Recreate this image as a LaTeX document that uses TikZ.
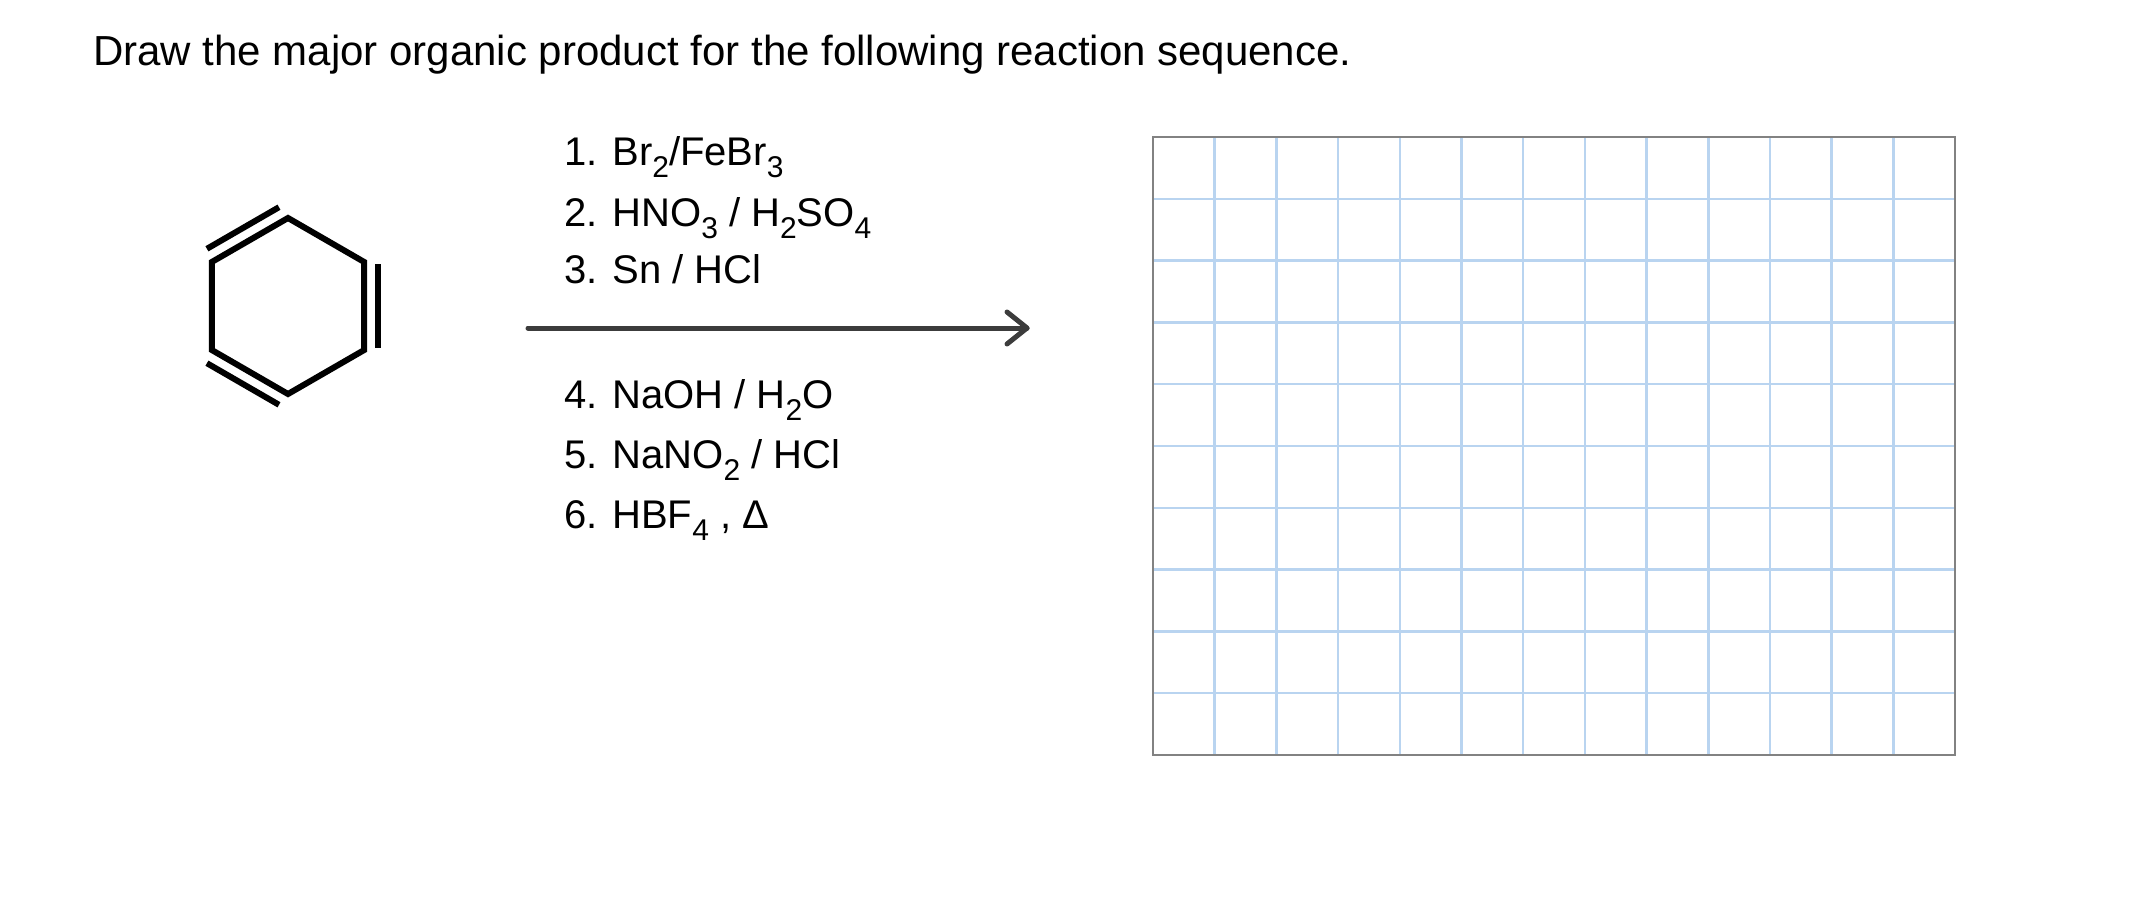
\documentclass[tikz,border=0pt]{standalone}
\usepackage{fontspec}
\setmainfont{Liberation Sans}
\usetikzlibrary{calc}
\newcommand\sbs[1]{\raisebox{-0.3em}{\fontsize{30}{30}\selectfont #1}}
\definecolor{gridblue}{RGB}{185,212,240}
\definecolor{framegray}{RGB}{130,130,130}
\definecolor{arrowgray}{RGB}{60,60,60}
\tikzset{
  bond/.style={line width=6pt,line cap=butt},
  reag/.style={anchor=west,inner sep=0pt,font=\fontsize{40}{40}\selectfont},
}
\begin{document}
\begin{tikzpicture}[x=1pt,y=-1pt]
\useasboundingbox (0,0) rectangle (2140,912);
\node[anchor=west,inner sep=0pt,font=\fontsize{42}{42}\selectfont] (title) at (93,55) {Draw the major organic product for the following reaction sequence.};
% benzene
\coordinate (c) at (288,306);
\foreach \i/\a in {1/90,2/150,3/210,4/270,5/330,6/30}{
  \coordinate (v\i) at ($(c)+(\a:88)$);
  \coordinate (o\i) at ($(c)+(\a:104)$);
}
\draw[bond,line join=miter] (v1)--(v2)--(v3)--(v4)--(v5)--(v6)--cycle;
% outer double bonds
\draw[bond] ($(o1)!0.1!(o2)$) -- ($(o2)!0.1!(o1)$);
\draw[bond] ($(o3)!0.1!(o4)$) -- ($(o4)!0.1!(o3)$);
\draw[bond] ($(o5)!0.1!(o6)$) -- ($(o6)!0.1!(o5)$);
% arrow
\coordinate (as) at (528,328);
\coordinate (ae) at (1027,328);
\draw[arrowgray,line width=5pt,line cap=round] (as) -- (ae);
\draw[arrowgray,line width=5pt,line cap=round,line join=round] ($(ae)+(-20,-16)$) -- (ae) -- ($(ae)+(-20,16)$);
% reagents
\node[reag] (r1) at (564,157) {1. Br\sbs{2}/FeBr\sbs{3}};
\node[reag] (r2) at (564,218) {2. HNO\sbs{3} / H\sbs{2}SO\sbs{4}};
\node[reag] (r3) at (564,269) {3. Sn / HCl};
\node[reag] (r4) at (564,400) {4. NaOH / H\sbs{2}O};
\node[reag] (r5) at (564,460) {5. NaNO\sbs{2} / HCl};
\node[reag] (r6) at (564,521) {6. HBF\sbs{4} , Δ};
% grid
\foreach \k in {1,...,12}{\draw[gridblue,line width=2.5pt] (1153+\k*61.7,137) -- (1153+\k*61.7,755);}
\foreach \k in {1,...,9}{\draw[gridblue,line width=2.5pt] (1153,137+\k*61.8) -- (1955,137+\k*61.8);}
\draw[framegray,line width=2.5pt] (1153,137) rectangle (1955,755);
\end{tikzpicture}
\end{document}
